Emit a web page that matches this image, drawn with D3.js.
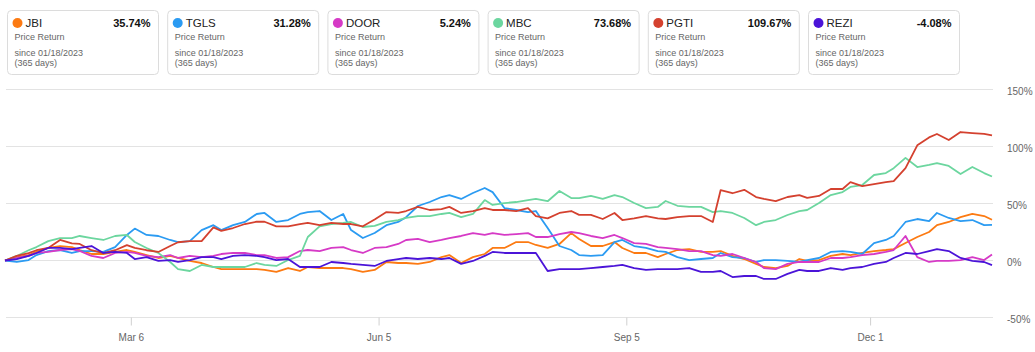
<!DOCTYPE html>
<html><head><meta charset="utf-8">
<script src="https://cdn.jsdelivr.net/npm/d3@7"></script>
<style>
body{margin:0;background:#fff;}
svg{display:block;font-family:"Liberation Sans",Arial,Helvetica,sans-serif;}
</style>
</head><body>
<svg id="chart" width="1035" height="352"></svg>
<script>
// ---- data ----
const tickers = ["JBI", "TGLS", "DOOR", "MBC", "PGTI", "REZI"];
const totalReturns = ["35.74%", "31.28%", "5.24%", "73.68%", "109.67%", "-4.08%"];
const seriesColors = ["#fc7a12", "#2b9bf2", "#d63ac6", "#6cd69f", "#d4412f", "#4b14d8"];
const sinceText = "since 01/18/2023";
const daysText = "(365 days)";
const subTitle = "Price Return";

// trading-day index since 01/18/2023 for each sample
const tradingDay = [0,3,6,8,11,14,17,19,22,25,28,31,33,36,39,42,44,47,50,53,55,58,61,64,66,69,72,75,77,80,
  83,86,88,91,94,97,100,102,105,108,111,113,116,119,122,124,127,130,133,135,138,141,144,146,149,152,155,157,160,163,
  166,168,171,174,177,180,182,185,188,191,193,196,199,202,204,207,210,213,215,218,221,224,226,229,232,235,237,240,243,246,
  249,251];

const jbi = [0,3,4.8,7.5,11,12.7,11.8,9.2,5.7,5.7,7.5,9.2,7.5,4.8,2.2,4,2.2,-0.4,-2.2,-5.7,
  -7.5,-7.5,-7.5,-7.5,-8.3,-10,-6.6,-9.2,-5.7,-6.6,-6.6,-6.6,-7.5,-10,-8.3,-1.3,-2.2,-2.2,-3,-1.3,
  3,4.8,-2.2,3,5.7,11,11,16.2,16.2,13.6,11,14.5,24,18.9,12.7,12.7,16.2,11,6.6,6.6,
  3,5.7,9.2,10,7.5,7.5,8.3,4,1.3,-3,-5.7,-6.6,-4.8,1.3,-0.4,0.4,4,5.7,4.8,6.6,
  8.3,9.2,10,15.3,20.6,25,31,33.8,38,40.8,39,35.74];
const tgls = [0,-1.3,0.4,4.8,8.3,9.2,6.6,8.3,8.3,7.5,11.8,22.4,28,22.4,21.5,18,16.2,17,26.7,31,
  26.7,31,33.8,40.8,41.7,33.8,35.5,40.8,42.5,43.4,35.5,40.8,26.7,19.7,24.1,31,33.8,38,47.8,51.3,
  55.7,57.4,54,59.2,63.6,60,46,44.3,42.5,43.4,28.5,12.7,9.2,4.8,4,4.8,16.2,18,12.7,11,
  8.3,7.5,3,0.4,1.3,2.2,6.6,3,2.2,-1.3,0.4,0.4,-0.4,-1.3,0.4,2.2,7.5,8.3,7.5,5.7,
  15.3,18,21.5,33.8,36.4,34.6,41.7,37.3,34.6,35.5,31,31.28];
const door = [0,2.2,4,6.6,7.5,9.2,10,8.3,4,2.2,6.6,7.5,6.6,4,3,4.8,2.2,4,3,4,
  5.7,6.6,6.6,4.8,4.8,2.2,3,8.3,9.2,8.3,11,11.8,9.2,6.6,11,11.8,14.5,18,18.9,16.2,
  18,19.7,21.5,24,22.4,24,22.4,23.2,24,20.6,20.6,23.2,25,24,21.5,19.7,22.4,19.7,15.3,14.5,
  11.8,11,10,8.3,8.3,4.8,4,5.7,2.2,-1.3,-6.6,-7.5,-3,-1.3,-1.3,-1.3,2.2,2.2,3,4.8,
  5.7,7.5,9.2,21.5,3,-1.3,-0.4,-0.4,0.4,3,0.4,5.24];
const mbc = [0,4,9,11.8,17,19.7,19.7,21.5,19.7,18,21.5,22.4,16.2,11,6.6,-1.3,-7.5,-9.2,-3.9,-5.7,
  -5.7,-5.7,-5.7,-2.2,-3.9,-4.8,0.4,4,20.6,30,32,32.9,33.8,29.4,30.3,33.8,35.5,37.3,39,39,
  40.8,41.7,38,40.8,53,48.7,50.4,51.3,53,54,52,61,54.8,54.8,56.6,54,57.4,55.7,50.4,46,
  47,52.2,48,47,47,42.5,43.4,41.7,37.3,31,33.8,35.5,39.9,43.4,44.3,50.4,57.4,60,64.5,66.2,
  75,76.7,81,90,82,83.8,85.5,82.9,75.9,82,76.7,73.68];
const pgti = [0,4,6.5,9,11,18,15,14.5,9,6.5,9,13.5,11,9,7.5,12.7,16,17,17,29,
  26,28.5,32,34,34,30,30,32,33,31,33,32,32,30,36,42.5,41.7,43.4,47,44.3,
  45,47,41.7,43.4,46,44.3,44.3,43.4,46,39,37,41.7,43.4,40,40,36.4,41.7,35.5,37,39,
  37,36.4,38,39,39,33.8,61.8,59,62,55.7,54,52,55.7,57.4,55,56.6,62.7,62.7,68.8,65.3,
  67,68.8,69.7,81,101,108,111,105.7,112.7,111.8,111,109.67];
const rezi = [0,1.3,4,6.6,11,11,10,11,12.7,6.6,7.5,6.6,1.3,3,-0.4,0.4,-1.3,0.4,3,3,
  1.3,4,4.8,4,3,0.4,1.3,-5.7,-5.7,-5.7,-1.3,-2.2,-3,-3.9,-4.8,-0.4,1.3,2.2,1.3,2.2,
  1.3,2.2,-3,-0.4,4,7.5,6.6,6.6,6.6,6.6,-9.2,-7.5,-7.5,-7.5,-6.6,-5.7,-4.8,-3.9,-6.6,-8.3,
  -7.5,-7.5,-7.5,-6.6,-10,-10,-9.2,-14.5,-13.6,-13.6,-16.2,-16.2,-11.8,-8.3,-9.2,-9.2,-6.6,-8.3,-6.6,-5.7,
  -3,-1.3,2.2,6.6,5.7,8.3,10,8.3,2.2,-0.4,-1.3,-4.08];

const yTickValues = [-50, 0, 50, 100, 150];
const xTickDays = [32, 95, 158, 220];
const xTickLabels = ["Mar 6", "Jun 5", "Sep 5", "Dec 1"];

const seriesValues = [jbi, tgls, door, mbc, pgti, rezi];

// ---- drawing ----
const svg = d3.select("#chart");
const x = d3.scaleLinear().domain([0, 251]).range([5, 992]);
const y = d3.scaleLinear().domain([-50, 150]).range([317.5, 89.5]);

// gridlines
svg.append("g").selectAll("line").data(yTickValues).join("line")
  .attr("x1", 6).attr("x2", 993)
  .attr("y1", d => y(d)).attr("y2", d => y(d))
  .attr("stroke", "#e3e3e3").attr("stroke-width", 1);

// y labels
svg.append("g").selectAll("text").data(yTickValues).join("text")
  .attr("x", 1007).attr("y", d => y(d) + 5)
  .attr("font-size", 10).attr("fill", "#666")
  .text(d => d + "%");

// x axis
const xAxis = d3.axisBottom(x).tickValues(xTickDays).tickSize(8).tickPadding(8)
  .tickFormat((d, i) => xTickLabels[i]);
const gx = svg.append("g").attr("transform", "translate(0,317.5)").call(xAxis);
gx.select(".domain").remove();
gx.selectAll(".tick line").attr("stroke", "#d0d0d0");
gx.selectAll(".tick text").attr("font-size", 10).attr("fill", "#666")
  .attr("font-family", "'Liberation Sans',Arial,sans-serif");

// lines
const line = d3.line().x((d, i) => x(tradingDay[i])).y(d => y(d)).curve(d3.curveLinear);
svg.append("g").selectAll("path").data(seriesValues).join("path")
  .attr("d", d => line(d))
  .attr("fill", "none")
  .attr("stroke", (d, i) => seriesColors[i])
  .attr("stroke-width", 1.8)
  .attr("stroke-linejoin", "round");

// legend cards
const cardW = 151, cardH = 64, cardPitch = 160.2;
const cards = svg.append("g").selectAll("g").data(tickers).join("g")
  .attr("transform", (d, i) => `translate(${7.5 + i * cardPitch},10.5)`);
cards.append("rect").attr("width", cardW).attr("height", cardH).attr("rx", 4)
  .attr("fill", "#fff").attr("stroke", "#dcdcdc");
cards.append("circle").attr("cx", 10).attr("cy", 12.5).attr("r", 5)
  .attr("fill", (d, i) => seriesColors[i]);
cards.append("text").attr("x", 18).attr("y", 16).attr("font-size", 11.5)
  .attr("fill", "#222").text(d => d);
cards.append("text").attr("x", cardW - 8).attr("y", 16).attr("font-size", 11)
  .attr("font-weight", "bold").attr("text-anchor", "end").attr("fill", "#111")
  .text((d, i) => totalReturns[i]);
cards.append("text").attr("x", 7).attr("y", 29).attr("font-size", 9)
  .attr("fill", "#666").text(subTitle);
cards.append("text").attr("x", 7).attr("y", 45).attr("font-size", 9)
  .attr("fill", "#666").text(sinceText);
cards.append("text").attr("x", 7).attr("y", 55).attr("font-size", 9)
  .attr("fill", "#666").text(daysText);
</script>
</body></html>
